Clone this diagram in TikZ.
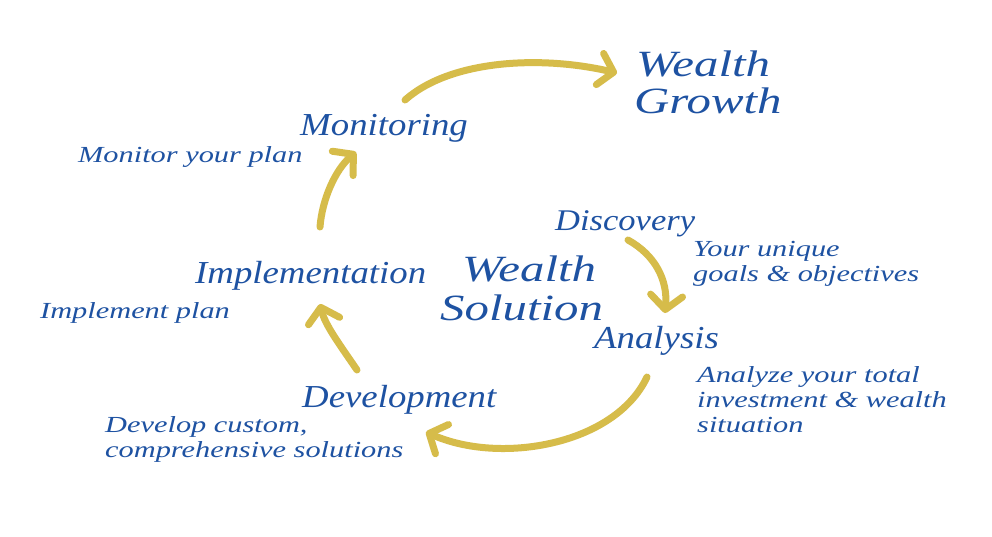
\documentclass[tikz,border=0pt]{standalone}
\usepackage{fontspec}
\setmainfont[FakeStretch=1.15]{Liberation Serif}
\newfontfamily\widehand[FakeStretch=1.32]{Liberation Serif}
\usetikzlibrary{arrows.meta}
\definecolor{inkblue}{RGB}{30,82,162}
\definecolor{gold}{RGB}{214,188,74}
\tikzset{
  txt/.style={inner sep=0pt, anchor=base west, text=inkblue, font=\widehand\itshape\fontsize{23}{25}\selectfont},
  head/.style={txt, font=\itshape\fontsize{32}{34}\selectfont},
  big/.style={txt, font=\widehand\itshape\fontsize{37}{40}\selectfont},
  arr/.style={draw=gold, line width=7pt, line cap=round,
    -{Straight Barb[length=14pt,width=32pt,round]}}
}
\begin{document}
\begin{tikzpicture}[x=1pt,y=-1pt]
\useasboundingbox[fill=white] (0,0) rectangle (992,536);
% titles
\node[big] (wg1) at (636,76) {Wealth};
\node[big] (wg2) at (634,113) {Growth};
\node[big] (ws1) at (462,281) {Wealth};
\node[big] (ws2) at (440,320) {Solution};
% stage headings
\node[head] (mon) at (300,135) {Monitoring};
\node[head, font=\itshape\fontsize{30}{32}\selectfont] (dis) at (555,230) {Discovery};
\node[head] (imp) at (195,283) {Implementation};
\node[head] (ana) at (594,348) {Analysis};
\node[head] (dev) at (302,407) {Development};
% descriptions
\node[txt] (mond) at (78,162) {Monitor your plan};
\node[txt] (disd1) at (693,256) {Your unique};
\node[txt] (disd2) at (693,281) {goals \& objectives};
\node[txt] (impd) at (40,318) {Implement plan};
\node[txt] (anad1) at (697,382) {Analyze your total};
\node[txt] (anad2) at (697,407) {investment \& wealth};
\node[txt] (anad3) at (697,432) {situation};
\node[txt] (devd1) at (105,432) {Develop custom,};
\node[txt] (devd2) at (105,457) {comprehensive solutions};
% arrow end points
\coordinate (a1s) at (405,100); \coordinate (a1e) at (617,73);
\coordinate (a2s) at (628,240); \coordinate (a2e) at (665,313);
\coordinate (a3s) at (647,377); \coordinate (a3e) at (426,432);
\coordinate (a4s) at (357,370); \coordinate (a4e) at (320,304);
\coordinate (a5s) at (320,227); \coordinate (a5e) at (356,152);
\draw[arr] (a1s) .. controls (450,60) and (540,55) .. (a1e);
\draw[arr] (a2s) .. controls (655,255) and (668,280) .. (a2e);
\draw[arr] (a3s) .. controls (615,445) and (500,465) .. (a3e);
\draw[arr] (a4s) .. controls (340,345) and (325,325) .. (a4e);
\draw[arr] (a5s) .. controls (322,200) and (335,170) .. (a5e);
\end{tikzpicture}
\end{document}
